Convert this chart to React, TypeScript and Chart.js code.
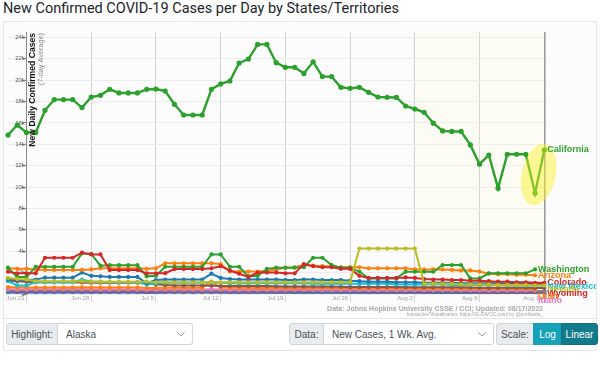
import React, { useEffect, useRef } from "react";
import { Chart, registerables } from "chart.js";

Chart.register(...registerables);

const dates = [
  "Jun 19", "Jun 20", "Jun 21", "Jun 22", "Jun 23", "Jun 24", "Jun 25", "Jun 26", "Jun 27", "Jun 28", "Jun 29", "Jun 30",
  "Jul 1", "Jul 2", "Jul 3", "Jul 4", "Jul 5", "Jul 6", "Jul 7", "Jul 8", "Jul 9", "Jul 10", "Jul 11", "Jul 12", "Jul 13",
  "Jul 14", "Jul 15", "Jul 16", "Jul 17", "Jul 18", "Jul 19", "Jul 20", "Jul 21", "Jul 22", "Jul 23", "Jul 24", "Jul 25",
  "Jul 26", "Jul 27", "Jul 28", "Jul 29", "Jul 30", "Jul 31",
  "Aug 1", "Aug 2", "Aug 3", "Aug 4", "Aug 5", "Aug 6", "Aug 7", "Aug 8", "Aug 9", "Aug 10", "Aug 11", "Aug 12", "Aug 13",
  "Aug 14", "Aug 15", "Aug 16",
];

const weeklyTicks = ["Jun 21", "Jun 28", "Jul 5", "Jul 12", "Jul 19", "Jul 26", "Aug 2", "Aug 9", "Aug 16"];
const yTicks = [0, 2000, 4000, 6000, 8000, 10000, 12000, 14000, 16000, 18000, 20000, 22000, 24000];
const yMax = 24500;
const lastDay = "Aug 16";
const shadeFrom = "Aug 2";

const california = [14870, 15800, 15100, 15100, 17180, 18180, 18180, 18180, 17430, 18420, 18580, 19140, 18800, 18800, 18800, 19140, 19170, 18980, 17740, 16740, 16740, 16740, 19140, 19640, 19920, 21600, 21970, 23340, 23340, 21630, 21200, 21200, 20630, 21720, 20330, 20330, 19330, 19230, 19330, 18860, 18420, 18400, 18380, 17580, 17300, 16990, 15970, 15250, 15200, 15200, 13940, 12140, 13000, 9900, 13070, 13070, 13070, 9430, 13470];
const washington = [2460, 1600, 1600, 2550, 2550, 2550, 2550, 2550, 3800, 3750, 2650, 2700, 2700, 2700, 2700, 1650, 1700, 2550, 2550, 2550, 2550, 2550, 3700, 3700, 2550, 2550, 1650, 1700, 2350, 2460, 2460, 2460, 2500, 3390, 3390, 2700, 2460, 2460, 2100, 1460, 1460, 1460, 1460, 2080, 2080, 2080, 2080, 2710, 2710, 2710, 1460, 1460, 1930, 1930, 1930, 1930, 1930, 2300];
const colorado = [2080, 1930, 1930, 1930, 3390, 3390, 3390, 3390, 3860, 3700, 3700, 2240, 2240, 2240, 2240, 1930, 1930, 1950, 2330, 2330, 2330, 2330, 2400, 2600, 2200, 1900, 1600, 2000, 2000, 2000, 1930, 1930, 2800, 2600, 2500, 2500, 2350, 2350, 1700, 1500, 1500, 1500, 1500, 1550, 1500, 1400, 1350, 1350, 1300, 1300, 1250, 1250, 1200, 1150, 1150, 1100, 1100, 1050, 1050];
const arizona = [2400, 2350, 2350, 2300, 2250, 2250, 2250, 2250, 2250, 2300, 2400, 2400, 2400, 2400, 2400, 2350, 2400, 2870, 2870, 2870, 2870, 2870, 2870, 2800, 2100, 2100, 2100, 2100, 2150, 2300, 2450, 2500, 2700, 2650, 2600, 2600, 2500, 2500, 2500, 2400, 2400, 2400, 2400, 2400, 2300, 2300, 2300, 2300, 2250, 2200, 2200, 2100, 1900, 1850, 1850, 1800, 1800, 1750];
const oregon = [1370, 1300, 1300, 1350, 1530, 1530, 1530, 1530, 2000, 1700, 1650, 1600, 1600, 1600, 1600, 1000, 1300, 1350, 1350, 1350, 1350, 1350, 1900, 1500, 1400, 1350, 1350, 1350, 1350, 1350, 1300, 1300, 1350, 1350, 1300, 1300, 1300, 1250, 1200, 1150, 1150, 1150, 1100, 1100, 1100, 1050, 1050, 1050, 1050, 1000, 1000, 1000, 1000, 1000, 950, 950, 950, 950, 950];
const nevada = [1500, 1400, 1350, 1200, 1200, 1200, 1200, 1200, 1200, 1150, 1150, 1150, 1150, 1150, 1150, 1150, 1100, 1100, 1100, 1100, 1100, 1100, 1100, 1100, 1100, 1100, 1100, 1100, 1100, 1100, 1100, 1100, 1100, 1100, 1100, 1100, 1100, 1100, 4250, 4250, 4250, 4250, 4250, 4250, 4250, 950, 950, 950, 950, 900, 900, 900, 900, 850, 850, 850, 850, 800, 800];
const newMexico = [1200, 800, 800, 1100, 1100, 1100, 1100, 1100, 1350, 1150, 1150, 1100, 1100, 1100, 1100, 900, 1000, 1050, 1050, 1050, 1050, 1050, 1100, 1050, 1000, 1000, 1000, 1000, 1000, 1000, 1000, 1000, 1000, 950, 950, 950, 950, 950, 950, 950, 950, 950, 900, 900, 900, 900, 900, 900, 850, 850, 850, 850, 850, 850, 800, 800, 800, 800, 800];
const hawaii = [1250, 1200, 1150, 1100, 1100, 1100, 1100, 1100, 1080, 1050, 1050, 1050, 1050, 1050, 1050, 1000, 900, 850, 800, 800, 800, 800, 780, 750, 750, 750, 750, 750, 750, 720, 700, 700, 700, 700, 700, 700, 680, 650, 650, 650, 650, 650, 650, 640, 620, 620, 620, 620, 620, 620, 600, 580, 580, 580, 580, 580, 580, 560, 550];
const utah = [650, 600, 600, 600, 600, 600, 600, 600, 620, 600, 600, 600, 600, 600, 600, 550, 560, 580, 580, 580, 580, 580, 1150, 600, 580, 580, 560, 560, 560, 560, 560, 560, 560, 560, 550, 550, 550, 550, 540, 540, 540, 530, 530, 530, 520, 520, 510, 510, 500, 500, 500, 490, 490, 480, 480, 470, 470, 450];
const idaho = [450, 420, 420, 450, 450, 450, 450, 450, 450, 430, 430, 430, 430, 430, 430, 400, 400, 420, 420, 420, 420, 420, 430, 420, 400, 400, 400, 400, 400, 400, 400, 400, 400, 390, 390, 390, 390, 390, 390, 380, 380, 380, 380, 380, 380, 370, 370, 370, 370, 370, 360, 360, 360, 360, 350, 350, 350, 350];
const montana = [330, 320, 320, 330, 330, 330, 330, 330, 330, 320, 320, 320, 320, 320, 320, 300, 300, 310, 310, 310, 310, 310, 320, 310, 300, 300, 300, 300, 300, 300, 300, 300, 300, 290, 290, 290, 290, 290, 290, 280, 280, 280, 280, 280, 280, 270, 270, 270, 270, 270, 270, 260, 260, 260, 260, 260, 260, 250, 250];
const wyoming = [380, 300, 300, 330, 330, 330, 330, 330, 330, 300, 300, 300, 300, 300, 300, 260, 280, 290, 290, 290, 290, 290, 300, 290, 280, 280, 280, 280, 280, 280, 280, 280, 280, 270, 270, 270, 270, 270, 270, 260, 260, 260, 260, 260, 260, 250, 250, 250, 250, 250, 250, 240, 240, 240, 240, 240, 230, 230, 230];
const alaska = [220, 200, 200, 210, 210, 210, 210, 210, 210, 200, 200, 200, 200, 200, 200, 180, 190, 200, 200, 200, 200, 200, 210, 200, 200, 200, 200, 200, 200, 200, 200, 190, 190, 190, 190, 190, 190, 190, 190, 180, 180, 180, 180, 180, 180, 180, 170, 170, 170, 170, 170, 170, 170, 160, 160, 160, 160, 160, 160];
const guam = [120, 110, 110, 120, 120, 120, 120, 120, 120, 110, 110, 110, 110, 110, 110, 100, 100, 110, 110, 110, 110, 110, 110, 110, 100, 100, 100, 100, 100, 100, 100, 100, 100, 100, 100, 100, 100, 100, 100, 90, 90, 90, 90, 90, 90, 90, 90, 90, 90, 90, 90, 90, 80, 80, 80, 80, 80, 80, 80];

const endLabelOrder = ["California", "Washington", "Arizona", "Colorado", "New Mexico", "Nevada", "Wyoming", "Utah", "Idaho"];
const highlightFrom = "Aug 15";

const SANS = "'Liberation Sans', Arial, sans-serif";
const COL = {
  blue: "#1f77b4", orange: "#ff7f0e", green: "#2ca02c", red: "#d62728", purple: "#9467bd",
  brown: "#8c564b", pink: "#e377c2", gray: "#7f7f7f", olive: "#bcbd22", cyan: "#17becf",
};

function series(label: string, data: number[], color: string, order: number, big = false) {
  return {
    label, data, order,
    borderColor: color, backgroundColor: color,
    pointBackgroundColor: color, pointBorderWidth: 0,
    pointRadius: big ? 2.6 : 2.1, borderWidth: big ? 2.4 : 2,
    tension: 0,
  };
}

const shadePlugin = {
  id: "shade",
  beforeDatasetsDraw(chart: any) {
    const { ctx, chartArea, scales } = chart;
    const x0 = scales.x.getPixelForValue(dates.indexOf(shadeFrom));
    const x1 = scales.x.getPixelForValue(dates.indexOf(lastDay));
    ctx.save();
    ctx.fillStyle = "rgba(255,255,200,0.12)";
    ctx.fillRect(x0, chartArea.top, x1 - x0, chartArea.bottom - chartArea.top);
    ctx.restore();
  },
};

const axisTitlePlugin = {
  id: "axisTitle",
  afterDraw(chart: any) {
    const { ctx, chartArea, scales } = chart;
    const ax = scales.x.getPixelForValue(dates.indexOf(weeklyTicks[0]));
    ctx.save();
    ctx.textAlign = "right";
    ctx.textBaseline = "middle";
    ctx.translate(ax + 6, chartArea.top + 1);
    ctx.rotate(-Math.PI / 2);
    ctx.fillStyle = "#111";
    ctx.font = `bold 8.6px ${SANS}`;
    ctx.fillText("New Daily Confirmed Cases", 0, 0);
    ctx.restore();
    ctx.save();
    ctx.textAlign = "right";
    ctx.textBaseline = "middle";
    ctx.translate(ax + 14, chartArea.top + 1);
    ctx.rotate(-Math.PI / 2);
    ctx.fillStyle = "#888";
    ctx.font = `7.3px ${SANS}`;
    ctx.fillText("(7-day Average)", 0, 0);
    ctx.restore();
  },
};

const highlightPlugin = {
  id: "highlight",
  afterDatasetsDraw(chart: any) {
    const idx = chart.data.datasets.findIndex((d: any) => d.label === "California");
    const pts = chart.getDatasetMeta(idx).data;
    const a = pts[dates.indexOf(highlightFrom)];
    const b = pts[pts.length - 1];
    const { ctx } = chart;
    const cx = (a.x + b.x) / 2;
    const cy = (a.y + b.y) / 2;
    const dx = b.x - a.x;
    const dy = a.y - b.y;
    const len = Math.sqrt(dx * dx + dy * dy);
    ctx.save();
    ctx.fillStyle = "rgba(250,240,30,0.45)";
    ctx.beginPath();
    ctx.ellipse(cx - 1, cy + 3, 17, len / 2 + 9, Math.atan2(dx, dy), 0, Math.PI * 2);
    ctx.fill();
    ctx.restore();
  },
};

const endLabelPlugin = {
  id: "endLabels",
  afterDatasetsDraw(chart: any) {
    const { ctx } = chart;
    ctx.save();
    ctx.font = `bold 9px ${SANS}`;
    ctx.textBaseline = "middle";
    ctx.textAlign = "left";
    let prev = -Infinity;
    for (const name of endLabelOrder) {
      const i = chart.data.datasets.findIndex((d: any) => d.label === name);
      if (i < 0) continue;
      const pts = chart.getDatasetMeta(i).data;
      const p = pts[pts.length - 1];
      const y = Math.max(p.y, prev + 3.5);
      prev = y;
      ctx.fillStyle = chart.data.datasets[i].borderColor;
      ctx.fillText(name, p.x + 3, y);
    }
    ctx.restore();
  },
};

function gridColor(ctx: any) {
  const label = dates[ctx.index];
  if (label === lastDay) return "#9a9a9a";
  if (weeklyTicks.includes(label)) return "#d2d2d2";
  return "rgba(0,0,0,0)";
}

function Chevron() {
  return (
    <svg width="8" height="5" viewBox="0 0 8 5" style={{ position: "absolute", right: 7, top: 8 }}>
      <polyline points="0.5,0.5 4,4 7.5,0.5" fill="none" stroke="#9a9a9a" strokeWidth="1" />
    </svg>
  );
}

export default function App() {
  const ref = useRef<HTMLCanvasElement>(null);

  useEffect(() => {
    const datasets = [
      series("California", california, COL.green, 1, true),
      series("Nevada", nevada, COL.olive, 2),
      series("Colorado", colorado, COL.red, 3),
      series("Washington", washington, COL.green, 4),
      series("Arizona", arizona, COL.orange, 5),
      series("Oregon", oregon, COL.blue, 6),
      series("New Mexico", newMexico, COL.cyan, 7),
      series("Hawaii", hawaii, COL.brown, 8),
      series("Utah", utah, COL.orange, 9),
      series("Idaho", idaho, COL.pink, 10),
      series("Montana", montana, COL.gray, 11),
      series("Wyoming", wyoming, COL.red, 12),
      series("Alaska", alaska, COL.blue, 13),
      series("Guam", guam, COL.purple, 14),
    ];
    const chart = new Chart(ref.current as HTMLCanvasElement, {
      type: "line",
      data: { labels: dates, datasets: datasets as any },
      options: {
        animation: false,
        responsive: false,
        layout: { padding: { left: 1.7, right: 51.7, top: 10, bottom: 0 } },
        plugins: { legend: { display: false }, tooltip: { enabled: false } },
        scales: {
          x: {
            type: "category",
            grid: {
              color: gridColor,
              lineWidth: (c: any) => (dates[c.index] === lastDay ? 1.6 : 1),
              drawTicks: true,
              tickLength: 8,
            },
            border: { display: false },
            ticks: {
              autoSkip: false,
              maxRotation: 0,
              minRotation: 0,
              align: "end",
              labelOffset: -2,
              padding: -7,
              color: "#a0a0a0",
              font: { size: 6, family: SANS },
              callback: (_v: any, i: number) => (weeklyTicks.includes(dates[i]) ? dates[i] : ""),
            },
            afterFit: (s: any) => {
              s.height = 24;
            },
          } as any,
          y: {
            position: { x: dates.indexOf(weeklyTicks[0]) } as any,
            min: 0,
            max: yMax,
            afterBuildTicks: (s: any) => {
              s.ticks = yTicks.map((v) => ({ value: v }));
            },
            grid: { color: "#ececec", tickLength: 4, tickColor: "#888" },
            border: { display: true, color: "#8a8a8a", width: 1 },
            ticks: {
              color: "#555",
              padding: 0,
              font: { size: 6, family: SANS },
              callback: (v: any) => (v === 0 ? "0 " : v / 1000 + "k "),
            } as any,
          } as any,
        },
      },
      plugins: [shadePlugin, highlightPlugin, endLabelPlugin, axisTitlePlugin],
    });
    return () => chart.destroy();
  }, []);

  const box: React.CSSProperties = {
    position: "absolute", top: 323, height: 22, boxSizing: "border-box",
    border: "1px solid #ced4da", display: "flex", alignItems: "center",
    fontFamily: SANS, fontSize: 10, color: "#495057", whiteSpace: "nowrap",
  };
  const addon: React.CSSProperties = { ...box, background: "#e9ecef", justifyContent: "center" };

  return (
    <div style={{ position: "absolute", left: 0, top: 0, width: 600, height: 386, background: "#fff", overflow: "hidden" }}>
      <div style={{ position: "absolute", left: 3, top: 0, fontFamily: "Roboto, sans-serif", fontSize: 14.5, lineHeight: "18px", color: "#212529", whiteSpace: "nowrap" }}>
        New Confirmed COVID-19 Cases per Day by States/Territories
      </div>
      <div style={{ position: "absolute", left: 3, top: 21, width: 594, height: 330, boxSizing: "border-box", border: "1px solid #e6e6e6", background: "#fff" }} />
      <div style={{ position: "absolute", left: 4, top: 22, width: 592, height: 296, background: "#fcfcfc" }}>
        <canvas ref={ref} width={592} height={296} style={{ display: "block", width: 592, height: 296 }} />
      </div>
      <div style={{ position: "absolute", left: 4, top: 318, width: 592, height: 1, background: "#e6e6e6" }} />
      <div style={{ position: "absolute", right: 57, top: 304, fontFamily: SANS, fontWeight: "bold", fontSize: 7, lineHeight: "10px", color: "#a8a8a8", whiteSpace: "nowrap" }}>
        Data: Johns Hopkins University CSSE / CCI; Updated: 08/17/2022
      </div>
      <div style={{ position: "absolute", right: 57, top: 312, fontFamily: SANS, fontSize: 4.8, lineHeight: "6px", color: "#a8a8a8", whiteSpace: "nowrap" }}>
        Interactive Visualization: https://91-DIVOC.com/ by @profwade_
      </div>

      <div style={{ ...addon, left: 6, width: 52, borderRadius: "3px 0 0 3px" }}>Highlight:</div>
      <div style={{ ...box, left: 57, width: 136, background: "#fff", borderRadius: "0 3px 3px 0", paddingLeft: 8 }}>
        Alaska
        <Chevron />
      </div>

      <div style={{ ...addon, left: 289, width: 35, borderRadius: "3px 0 0 3px" }}>Data:</div>
      <div style={{ ...box, left: 323, width: 171, background: "#fff", borderRadius: "0 3px 3px 0", paddingLeft: 8 }}>
        New Cases, 1 Wk. Avg.
        <Chevron />
      </div>

      <div style={{ ...addon, left: 496, width: 38, borderRadius: "3px 0 0 3px" }}>Scale:</div>
      <div style={{ ...box, left: 533, width: 29, background: "#17a2b8", border: "1px solid #17a2b8", color: "#fff", justifyContent: "center" }}>Log</div>
      <div style={{ ...box, left: 561, width: 37, background: "#117a8b", border: "1px solid #10707f", color: "#fff", justifyContent: "center", borderRadius: "0 3px 3px 0" }}>Linear</div>
    </div>
  );
}
